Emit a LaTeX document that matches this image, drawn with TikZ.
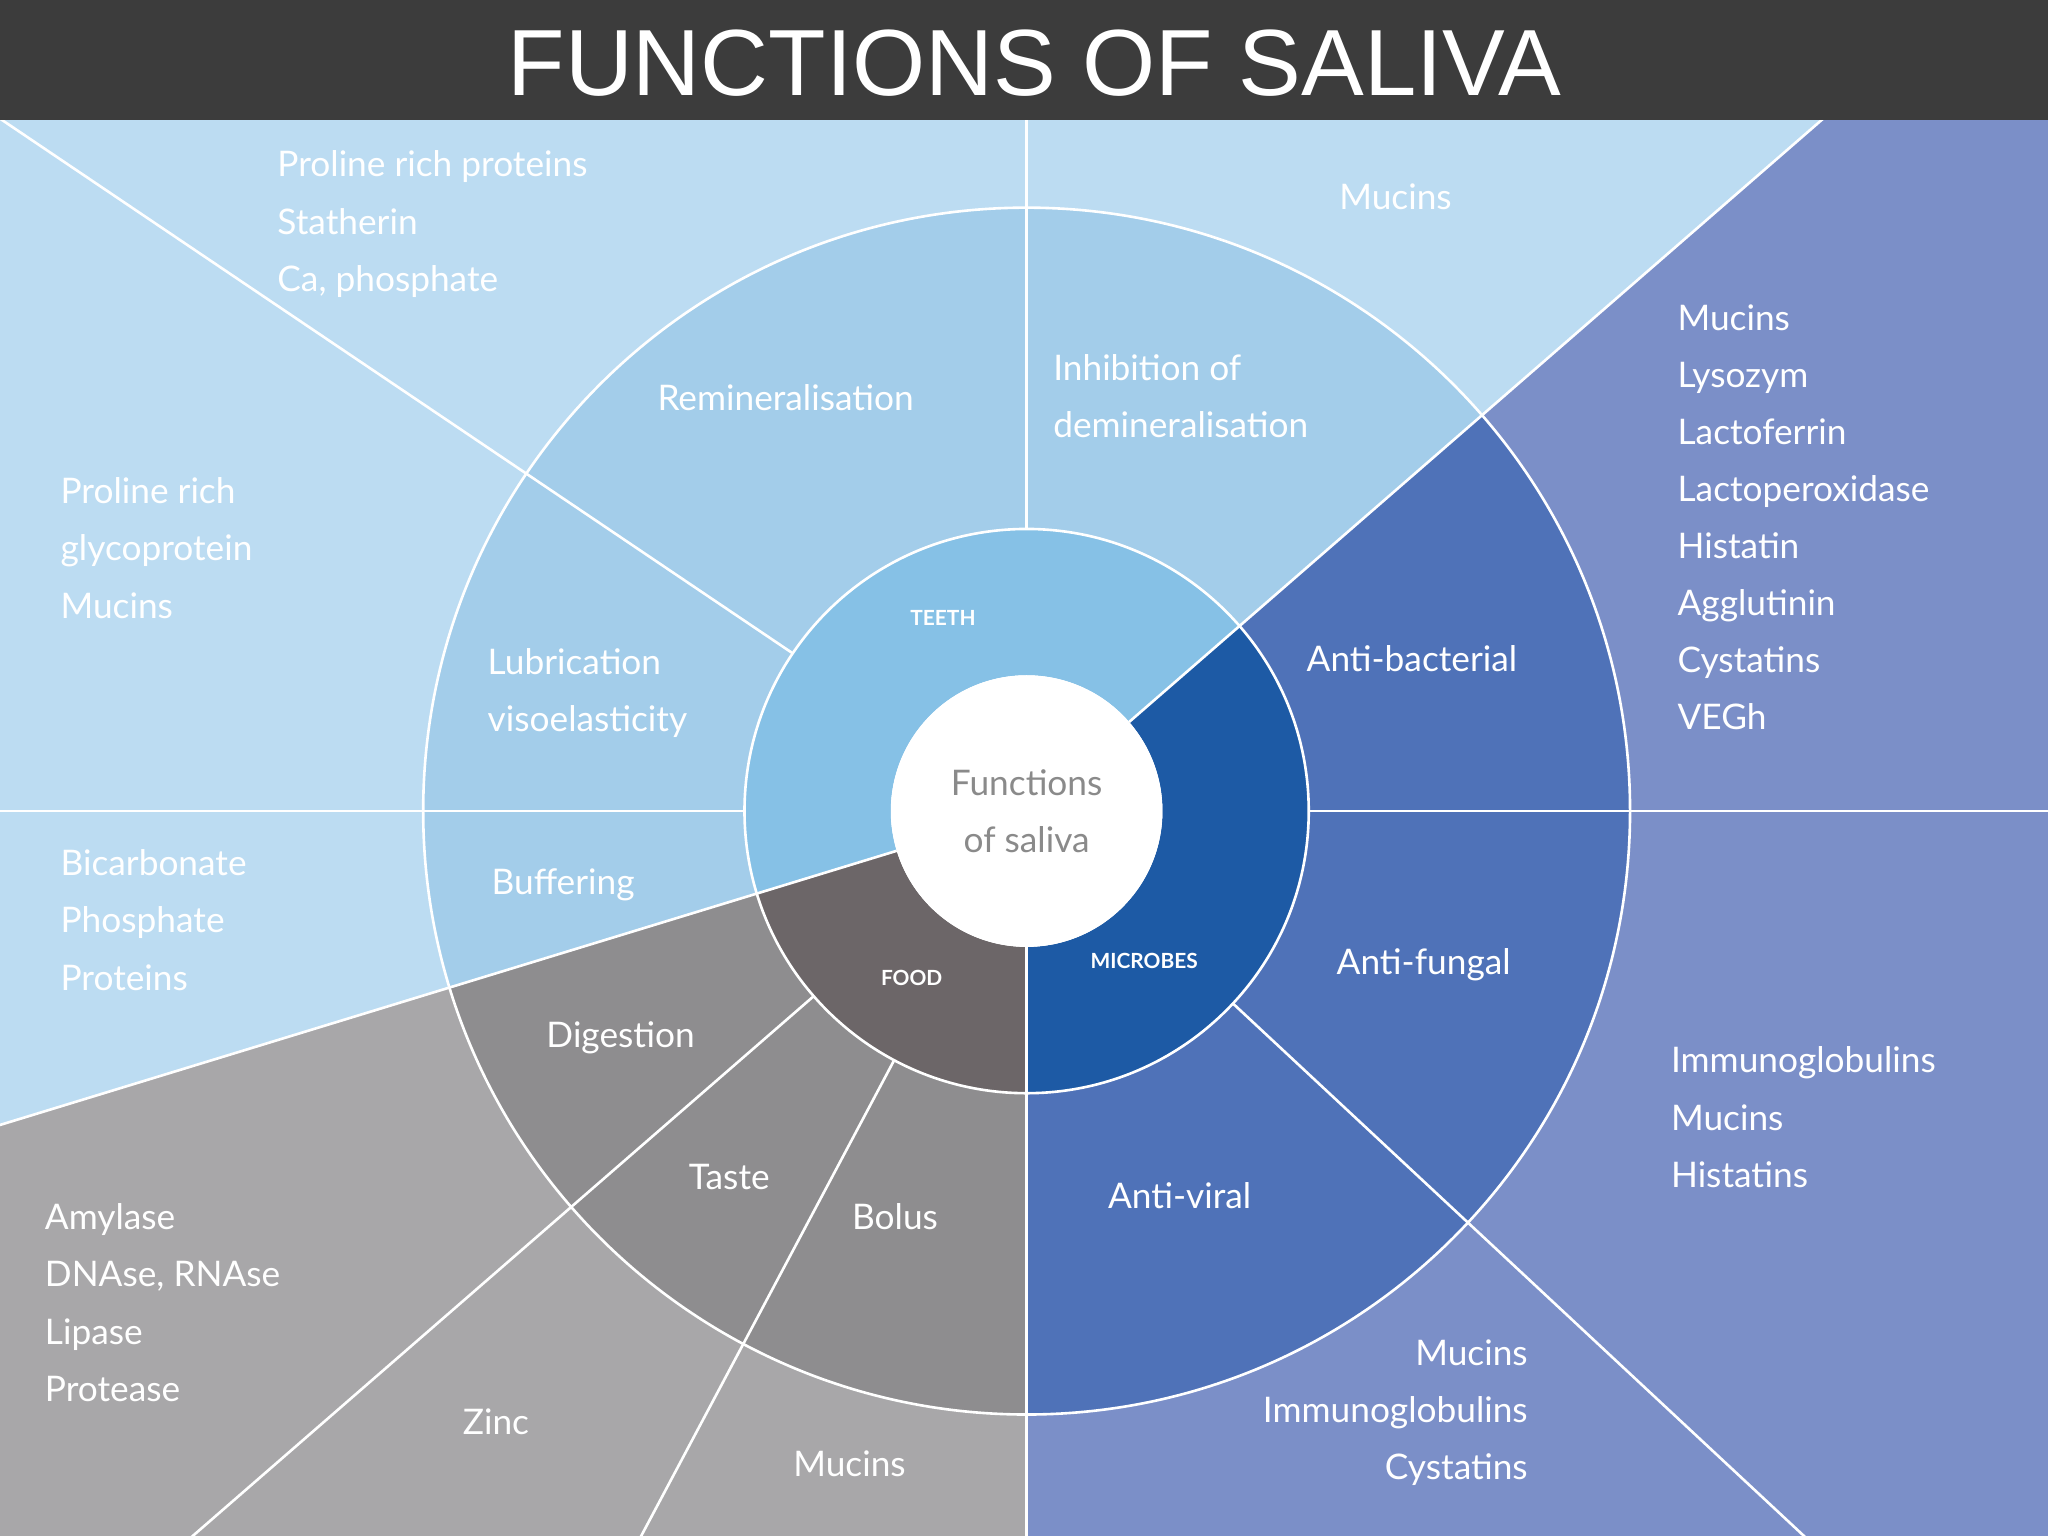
\documentclass[tikz,border=0pt]{standalone}
\usepackage{fontspec}
\setmainfont{Lato}
\newfontfamily\titlefont{Liberation Sans}
\definecolor{TeethOut}{HTML}{BCDCF2}
\definecolor{TeethMid}{HTML}{A3CDEA}
\definecolor{TeethIn}{HTML}{86C1E6}
\definecolor{MicOut}{HTML}{7B8FC8}
\definecolor{MicMid}{HTML}{4F72B8}
\definecolor{MicIn}{HTML}{1D5AA5}
\definecolor{FoodOut}{HTML}{A8A7A9}
\definecolor{FoodMid}{HTML}{8E8D8F}
\definecolor{FoodIn}{HTML}{6C6668}
\definecolor{TitleBar}{HTML}{3C3C3C}
\definecolor{CoreText}{HTML}{8A8A8A}

% ring sector: colour, inner radius, outer radius, start angle, end angle
\newcommand\ringsector[5]{%
  \fill[#1] ([shift={(#4:#2)}]C) arc[start angle=#4,end angle=#5,radius=#2]
    -- ([shift={(#5:#3)}]C) arc[start angle=#5,end angle=#4,radius=#3] -- cycle;}

\tikzset{
  lbl/.style={text=white,anchor=north west,inner sep=0pt,align=left,
    font=\fontsize{13.5}{22}\selectfont},
  tag/.style={text=white,inner sep=0pt,font=\bfseries\fontsize{8}{9}\selectfont},
  divider/.style={white,line width=1pt},
}

\begin{document}
\begin{tikzpicture}[x=0.5pt,y=0.5pt]
  \useasboundingbox (0,0) rectangle (1568,1176);
  \coordinate (C) at (786,555);

  % outer sectors
  \begin{scope}
    \clip (0,0) rectangle (1568,1084);
    \ringsector{TeethOut}{462}{1600}{41}{197}
    \ringsector{FoodOut}{462}{1600}{197}{270}
    \ringsector{MicOut}{462}{1600}{-90}{41}
  \end{scope}

  % middle ring
  \ringsector{TeethMid}{216}{462}{41}{197}
  \ringsector{FoodMid}{216}{462}{197}{270}
  \ringsector{MicMid}{216}{462}{-90}{41}

  % inner ring
  \ringsector{TeethIn}{104}{216}{41}{197}
  \ringsector{FoodIn}{104}{216}{197}{270}
  \ringsector{MicIn}{104}{216}{-90}{41}

  % dividers
  \begin{scope}
    \clip (0,0) rectangle (1568,1084);
    \foreach \a in {41,197,270}
      \draw[divider] ([shift={(\a:104)}]C) -- ([shift={(\a:1600)}]C);
    \foreach \a in {90,146,180,221,242,0,-43}
      \draw[divider] ([shift={(\a:216)}]C) -- ([shift={(\a:1600)}]C);
  \end{scope}
  \draw[divider] (C) circle[radius=216];
  \draw[divider] (C) circle[radius=462];
  \fill[white] (C) circle[radius=104];

  % title bar
  \fill[TitleBar] (0,1084) rectangle (1568,1176);
  \node[text=white,font=\titlefont\fontsize{36}{40}\selectfont] (title) at (792,1128) {FUNCTIONS OF SALIVA};

  % centre
  \node[text=CoreText,align=center,font=\fontsize{13.5}{22}\selectfont] (core) at (786,555) {Functions\\of saliva};
  \node[tag] (teeth) at (722,703) {TEETH};
  \node[tag] (food) at (698,427) {FOOD};
  \node[tag] (microbes) at (876,440) {MICROBES};

  % middle ring labels
  \node[lbl] (remin) at (503,882) {Remineralisation};
  \node[lbl] (inhib) at (806,905) {Inhibition of\\demineralisation};
  \node[lbl] (lubr) at (373,680) {Lubrication\\visoelasticity};
  \node[lbl] (buff) at (376,511) {Buffering};
  \node[lbl] (digest) at (418,394) {Digestion};
  \node[lbl] (taste) at (527,285) {Taste};
  \node[lbl] (bolus) at (652,255) {Bolus};
  \node[lbl] (antibact) at (1000,682) {Anti-bacterial};
  \node[lbl] (antifung) at (1023,450) {Anti-fungal};
  \node[lbl] (antivir) at (848,271) {Anti-viral};

  % outer labels
  \node[lbl] (remincomp) at (212,1061) {Proline rich proteins\\Statherin\\Ca, phosphate};
  \node[lbl] (inhibcomp) at (1025,1036) {Mucins};
  \node[lbl] (lubrcomp) at (46,811) {Proline rich\\glycoprotein\\Mucins};
  \node[lbl] (buffcomp) at (46,526) {Bicarbonate\\Phosphate\\Proteins};
  \node[lbl] (digestcomp) at (34,255) {Amylase\\DNAse, RNAse\\Lipase\\Protease};
  \node[lbl] (tastecomp) at (354,98) {Zinc};
  \node[lbl] (boluscomp) at (607,66) {Mucins};
  \node[lbl,anchor=north east,align=right] (antivircomp) at (1170,151) {Mucins\\Immunoglobulins\\Cystatins};
  \node[lbl] (antifungcomp) at (1279,375) {Immunoglobulins\\Mucins\\Histatins};
  \node[lbl,font=\fontsize{13.5}{21.8}\selectfont] (antibactcomp) at (1284,943) {Mucins\\Lysozym\\Lactoferrin\\Lactoperoxidase\\Histatin\\Agglutinin\\Cystatins\\VEGh};
\end{tikzpicture}
\end{document}
